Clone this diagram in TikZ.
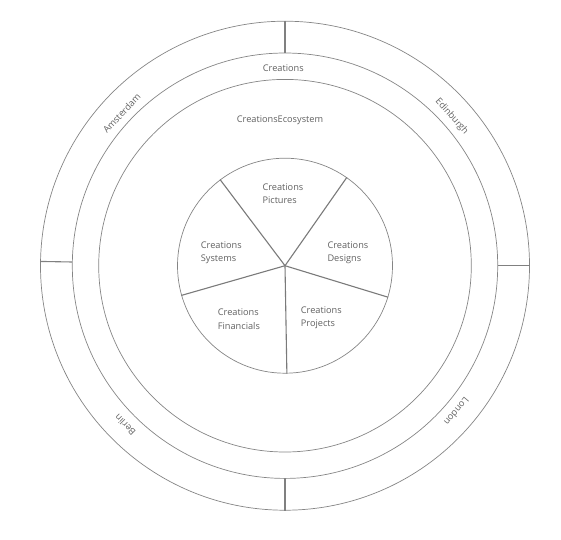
\documentclass[tikz,border=0pt]{standalone}
\usepackage{fontspec}
\setmainfont{Open Sans}
\begin{document}
\begin{tikzpicture}[x=1pt,y=-1pt,
  ring/.style={circle,draw=black!48,line width=0.7pt,inner sep=0pt},
  divider/.style={draw=black!50,line width=1.1pt},
  spoke/.style={draw=black!52,line width=1.1pt},
  lbl/.style={text=black!62,inner sep=0pt,font=\fontsize{9.2}{13.5}\selectfont},
  plbl/.style={lbl,align=left,anchor=west}]
\useasboundingbox (0,0) rectangle (561,539);
\coordinate (c) at (285,265.7);
\node[ring,minimum size=489pt] (outer) at (c) {};
\node[ring,minimum size=425.4pt] (mid) at (c) {};
\node[ring,minimum size=372.6pt] (eco) at (c) {};
\node[ring,minimum size=215pt] (pie) at (c) {};
% outer ring dividers
\draw[divider] (outer.90.4) -- (mid.90.4);
\draw[divider] (outer.179.5) -- (mid.179.5);
\draw[divider] (outer.0.5) -- (mid.0.5);
\draw[divider] (outer.270.6) -- (mid.270.6);
% pie spokes
\draw[spoke] (pie.center) -- (pie.127);
\draw[spoke] (pie.center) -- (pie.55.5);
\draw[spoke] (pie.center) -- (pie.-17);
\draw[spoke] (pie.center) -- (pie.-89.5);
\draw[spoke] (pie.center) -- (pie.196);
% ring labels
\node[lbl,rotate=46.8] (ams) at (121.7,113.3) {Amsterdam};
\node[lbl,rotate=-48.2] (edi) at (451.7,116.7) {Edinburgh};
\node[lbl,rotate=134.8] (ber) at (125,425) {Berlin};
\node[lbl,rotate=-130.3] (lon) at (456.7,411.7) {London};
\node[lbl] (cr) at (283.3,67.8) {Creations};
\node[lbl] (ce) at (280,119.8) {CreationsEcosystem};
% pie labels
\node[plbl] (pic) at (262.3,193.5) {Creations\\Pictures};
\node[plbl] (des) at (327.3,252.5) {Creations\\Designs};
\node[plbl] (sys) at (200.7,252.5) {Creations\\Systems};
\node[plbl] (fin) at (217.7,319.2) {Creations\\Financials};
\node[plbl] (pro) at (300.7,317.5) {Creations\\Projects};
\end{tikzpicture}
\end{document}
